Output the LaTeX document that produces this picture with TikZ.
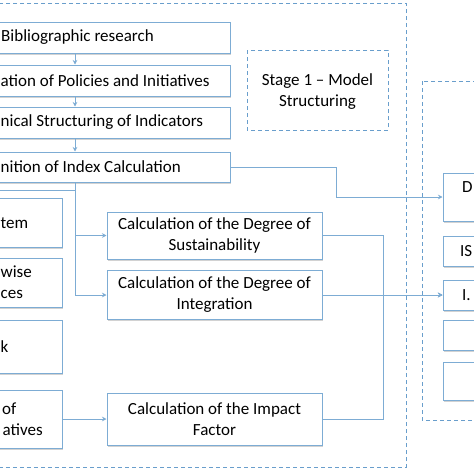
\documentclass[tikz,border=0pt]{standalone}
\usepackage{fontspec}
\setmainfont{Carlito}
\usetikzlibrary{arrows.meta,shadows}
\definecolor{azul}{RGB}{125,172,212}
\definecolor{azultr}{RGB}{105,158,204}
\begin{document}
\begin{tikzpicture}[x=1pt,y=-1pt]
\tikzset{caixa/.style={draw=azul, fill=white, line width=1pt, inner sep=0pt, align=center, font=\fontsize{17}{21}\selectfont,
    drop shadow={shadow xshift=1pt,shadow yshift=-1.5pt,fill=black!35,opacity=.5}},
  texto/.style={inner sep=0pt, align=center, font=\fontsize{17}{21}\selectfont},
  seta/.style={draw=azul, line width=.9pt, -{Stealth[length=4.5pt,width=4.5pt]}},
  linha/.style={draw=azul, line width=.9pt},
  tracejado/.style={draw=azultr, line width=.9pt, dash pattern=on 4pt off 3pt}}

\useasboundingbox (0,0) rectangle (474,474);
\clip (0,0) rectangle (474,474);
\fill[white] (0,0) rectangle (474,474);

% stages
\draw[tracejado] (-20,3) rectangle (406,467);
\draw[tracejado] (422,81) rectangle (520,420);
\draw[tracejado] (247,50) rectangle (388,130);
\draw (317.5,91.5) node[texto] (st1) {Stage 1 – Model\\Structuring};

% top column
\draw (75,37.5) node[caixa, minimum width=310pt, minimum height=31pt] (b1) {};
\draw (75,80.5) node[caixa, minimum width=310pt, minimum height=31pt] (b2) {};
\draw (75,122.5) node[caixa, minimum width=310pt, minimum height=31pt] (b3) {};
\draw (75,167) node[caixa, minimum width=310pt, minimum height=30pt] (b4) {};
\draw (1,37.5) node[texto, anchor=west] {Bibliographic research};
\draw (0.5,80.5) node[texto, anchor=west] {ation of Policies and Initiatives};
\draw (0.5,122.5) node[texto, anchor=west] {nical Structuring of Indicators};
\draw (0.5,167) node[texto, anchor=west] {nition of Index Calculation};

% left column
\draw (1,222.5) node[caixa, minimum width=122pt, minimum height=49pt] (lA) {};
\draw (1,282.5) node[caixa, minimum width=122pt, minimum height=49pt] (lB) {};
\draw (1,346.5) node[caixa, minimum width=122pt, minimum height=53pt] (lC) {};
\draw (1,419) node[caixa, minimum width=122pt, minimum height=58pt] (lD) {};
\draw (0.5,223) node[texto, anchor=west] {tem};
\draw (0.5,272) node[texto, anchor=west] {wise};
\draw (0.5,294) node[texto, anchor=west] {ces};
\draw (0.5,347) node[texto, anchor=west] {k};
\draw (2,409) node[texto, anchor=west] {of};
\draw (2.5,430) node[texto, anchor=west] {atives};

% calculations
\draw (214.5,235.5) node[caixa, minimum width=215pt, minimum height=47pt] (sust) {Calculation of the Degree of\\Sustainability};
\draw (214.5,295) node[caixa, minimum width=215pt, minimum height=49pt] (integ) {Calculation of the Degree of\\Integration};
\draw (214.5,419) node[caixa, minimum width=215pt, minimum height=52pt] (impact) {Calculation of the Impact\\Factor};

% right column
\draw (503,197) node[caixa, minimum width=120pt, minimum height=48pt] (dbox) {};
\draw (503,251) node[caixa, minimum width=120pt, minimum height=30pt] (isbox) {};
\draw (503,295) node[caixa, minimum width=120pt, minimum height=30pt] (ibox) {};
\draw (503,335) node[caixa, minimum width=120pt, minimum height=30pt] (e1) {};
\draw (503,381) node[caixa, minimum width=120pt, minimum height=38pt] (e2) {};
\draw (462,187) node[texto, anchor=west] {D};
\draw (460,251) node[texto, anchor=west] {IS};
\draw (462,295) node[texto, anchor=west] {I.};

% connectors
\draw[seta] (b1.south) -- (b2.north);
\draw[seta] (b2.south) -- (b3.north);
\draw[seta] (b3.south) -- (b4.north);
\coordinate (fora) at (-10,190);
\draw[linha] (fora) -- (75,190);
\draw[seta] (b4.south) |- (sust.west);
\draw[seta] (b4.south) |- (integ.west);
\draw[seta] (lD.east) -- (impact.west);
\draw[seta] (b4.east) -- (336,167) |- (dbox.west);
\coordinate (j) at (383,295);
\draw[seta] (sust.east) -| (j) -- (ibox.west);
\draw[seta] (impact.east) -| (j) -- (ibox.west);
\draw[seta] (integ.east) -- (ibox.west);
\end{tikzpicture}
\end{document}
